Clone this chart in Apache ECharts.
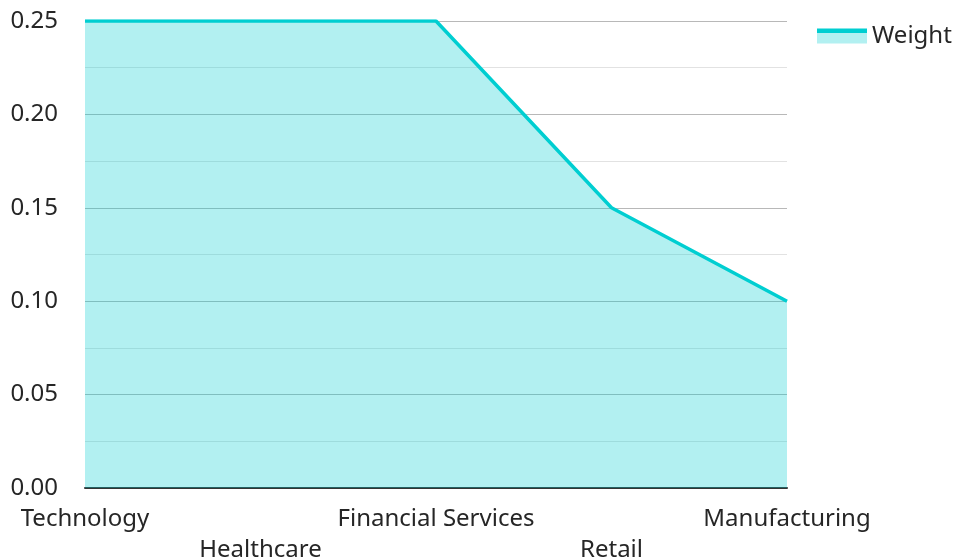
<!DOCTYPE html>
<html>
<head>
<meta charset="utf-8">
<script src="https://cdn.jsdelivr.net/npm/echarts@6/dist/echarts.min.js"></script>
<style>
  html, body { margin: 0; padding: 0; background: #fff; }
  #chart { width: 957px; height: 560px; }
</style>
</head>
<body>
<div id="chart"></div>
<script>
var categories = ['Technology', 'Healthcare', 'Financial Services', 'Retail', 'Manufacturing'];
var weights = [0.25, 0.25, 0.25, 0.15, 0.10];

var lineColor = '#00CED1';
var areaColor = '#b2f0f1';
var textColor = '#262626';

var chart = echarts.init(document.getElementById('chart'));

chart.setOption({
    animation: false,
    textStyle: { fontFamily: 'Noto Sans' },
    grid: { left: 85, right: 170, top: 21, bottom: 72, outerBoundsMode: 'none' },
    legend: {
        left: 812,
        top: 19,
        icon: 'rect',
        itemWidth: 50,
        itemHeight: 15,
        textStyle: { fontSize: 24, color: textColor, fontFamily: 'Noto Sans' },
        itemStyle: {
            // line on top, filled area below
            color: {
                type: 'linear', x: 0, y: 0, x2: 0, y2: 1,
                colorStops: [
                    { offset: 0, color: lineColor },
                    { offset: 0.27, color: lineColor },
                    { offset: 0.27, color: areaColor },
                    { offset: 1, color: areaColor }
                ]
            }
        },
        data: ['Weight']
    },
    xAxis: {
        type: 'category',
        data: categories,
        boundaryGap: false,
        axisLine: { lineStyle: { color: '#333', width: 2 } },
        axisTick: { show: false },
        axisLabel: {
            interval: 0,
            fontSize: 24,
            color: textColor,
            margin: 16,
            lineHeight: 31,
            formatter: function (v, i) {
                // stagger labels so they do not overlap
                return i % 2 === 1 ? '\n' + v : v;
            }
        }
    },
    yAxis: {
        type: 'value',
        min: 0,
        max: 0.25,
        interval: 0.05,
        axisLine: { show: false },
        axisTick: { show: false },
        axisLabel: {
            fontSize: 24,
            color: textColor,
            margin: 27,
            formatter: function (v) { return v.toFixed(2); }
        },
        splitLine: { lineStyle: { color: '#b8b8b8', width: 1 } },
        minorTick: { show: false, splitNumber: 2 },
        minorSplitLine: { show: true, lineStyle: { color: '#e2e2e2', width: 1 } }
    },
    series: [{
        name: 'Weight',
        type: 'line',
        data: weights,
        symbol: 'none',
        lineStyle: { color: lineColor, width: 3.5 },
        itemStyle: { color: lineColor },
        areaStyle: { color: lineColor, opacity: 0.3 }
    }]
});
</script>
</body>
</html>
